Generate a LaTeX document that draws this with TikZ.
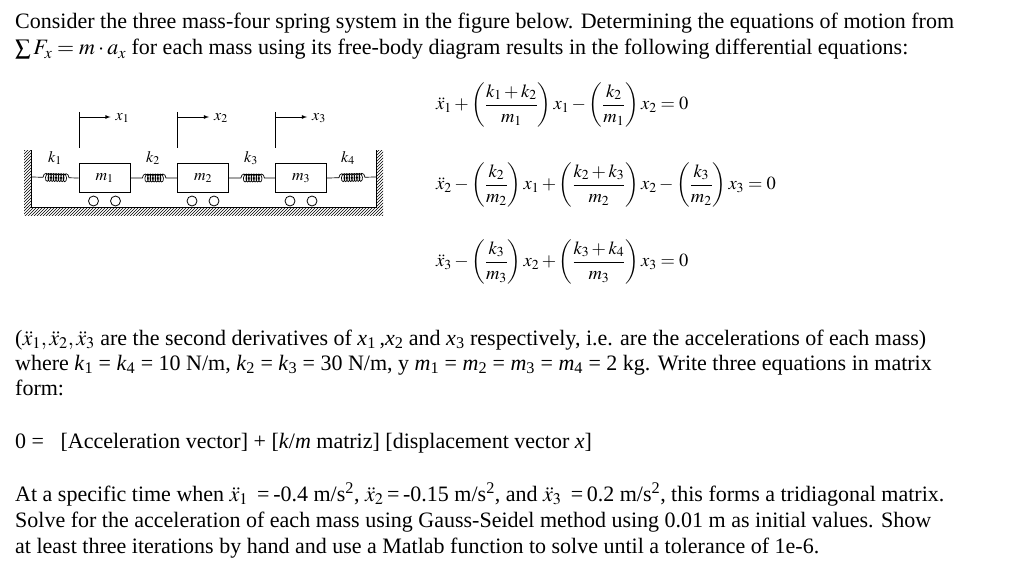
\documentclass[tikz,border=0pt]{standalone}
\usepackage{mathptmx}
\usepackage{fontspec}
\setmainfont{Liberation Serif}
\usetikzlibrary{patterns,decorations.pathmorphing}
\begin{document}
\begin{tikzpicture}[x=1pt,y=-1pt,
  txt/.style={anchor=base west,inner sep=0pt,font=\fontsize{22}{26}\selectfont},
  eqn/.style={anchor=west,inner sep=0pt,font=\fontsize{18.5}{21}\selectfont},
  mass/.style={draw,line width=0.8pt,minimum width=51pt,minimum height=29pt,inner sep=0pt,font=\fontsize{16}{18}\selectfont},
  lab/.style={inner sep=0pt,font=\bfseries\fontsize{16}{18}\selectfont},
  wheel/.style={draw,line width=0.8pt,circle,minimum size=10pt,inner sep=0pt},
  spr/.style={line width=0.7pt,decorate,decoration={coil,aspect=0.6,segment length=2.5pt,amplitude=4pt,pre length=12pt,post length=9pt}}]
\useasboundingbox (0,0) rectangle (1024,583);
% walls and floor
\fill[pattern=north east lines] (24,150) rectangle (31,207);
\fill[pattern=north east lines] (376,150) rectangle (383,207);
\fill[pattern=north east lines] (24,207) rectangle (383,215);
\draw[line width=0.8pt] (31,150) -- (31,207) -- (376,207) -- (376,150);
\coordinate (wl) at (31,177); \coordinate (wr) at (376,177);
\foreach \i/\x in {1/104.5,2/203,3/301}{
  \node[mass] (m\i) at (\x,178) {$m_{\i}$};
  \node[wheel] (wa\i) at (\x-11,201) {};
  \node[wheel] (wb\i) at (\x+11,201) {};
  \coordinate (t\i) at (\x-25.5,112);
  \coordinate (b\i) at (\x-25.5,148);
  \coordinate (h\i) at (\x-25.5,117);
  \coordinate (e\i) at (\x+6,117);
  \draw[line width=0.8pt] (t\i) -- (b\i);
  \draw[-latex,line width=0.8pt] (h\i) -- (e\i);
  \node[lab,anchor=west] (xl\i) at (\x+11,118) {$x_{\i}$};
}
\draw[spr] (wl) -- (m1.west);
\draw[spr] (m1.east) -- (m2.west);
\draw[spr] (m2.east) -- (m3.west);
\draw[spr] (m3.east) -- (wr);
\node[lab] (k1) at (55,158) {$k_1$};
\node[lab] (k2) at (153,158) {$k_2$};
\node[lab] (k3) at (251,158) {$k_3$};
\node[lab] (k4) at (348,158) {$k_4$};
% equations
\node[eqn] (eq1) at (436,105) {$\displaystyle \ddot{x}_1+\left(\frac{k_1+k_2}{m_1}\right)x_1-\left(\frac{k_2}{m_1}\right)x_2=0$};
\node[eqn] (eq2) at (436,185) {$\displaystyle \ddot{x}_2-\left(\frac{k_2}{m_2}\right)x_1+\left(\frac{k_2+k_3}{m_2}\right)x_2-\left(\frac{k_3}{m_2}\right)x_3=0$};
\node[eqn] (eq3) at (436,262) {$\displaystyle \ddot{x}_3-\left(\frac{k_3}{m_3}\right)x_2+\left(\frac{k_3+k_4}{m_3}\right)x_3=0$};
% text
\node[txt] (l1) at (15,29) {Consider the three mass-four spring system in the figure below. Determining the equations of motion from};
\node[txt] (l2) at (15,55) {$\sum F_x = m\cdot a_x$ for each mass using its free-body diagram results in the following differential equations:};
\node[txt] (l3) at (15,345) {($\ddot{x}_1,\ddot{x}_2,\ddot{x}_3$ are the second derivatives of \textit{x}\textsubscript{1}\,,\textit{x}\textsubscript{2} and \textit{x}\textsubscript{3} respectively, i.e. are the accelerations of each mass)};
\node[txt] (l4) at (15,370) {where \textit{k}\textsubscript{1} = \textit{k}\textsubscript{4} = 10 N/m, \textit{k}\textsubscript{2} = \textit{k}\textsubscript{3} = 30 N/m, y \textit{m}\textsubscript{1} = \textit{m}\textsubscript{2} = \textit{m}\textsubscript{3} = \textit{m}\textsubscript{4} = 2 kg. Write three equations in matrix};
\node[txt] (l5) at (15,395) {form:};
\node[txt] (l6) at (15,448) {0 = \ \ [Acceleration vector] + [\textit{k}/\textit{m} matriz] [displacement vector \textit{x}]};
\node[txt] (l7) at (15,501) {At a specific time when $\ddot{x}_1$ \,=\,-0.4 m/s\textsuperscript{2}, $\ddot{x}_2$\,=\,-0.15 m/s\textsuperscript{2}, and $\ddot{x}_3$ \,=\,0.2 m/s\textsuperscript{2}, this forms a tridiagonal matrix.};
\node[txt] (l8) at (15,527) {Solve for the acceleration of each mass using Gauss-Seidel method using 0.01 m as initial values. Show};
\node[txt] (l9) at (15,553) {at least three iterations by hand and use a Matlab function to solve until a tolerance of 1e-6.};
\end{tikzpicture}
\end{document}
